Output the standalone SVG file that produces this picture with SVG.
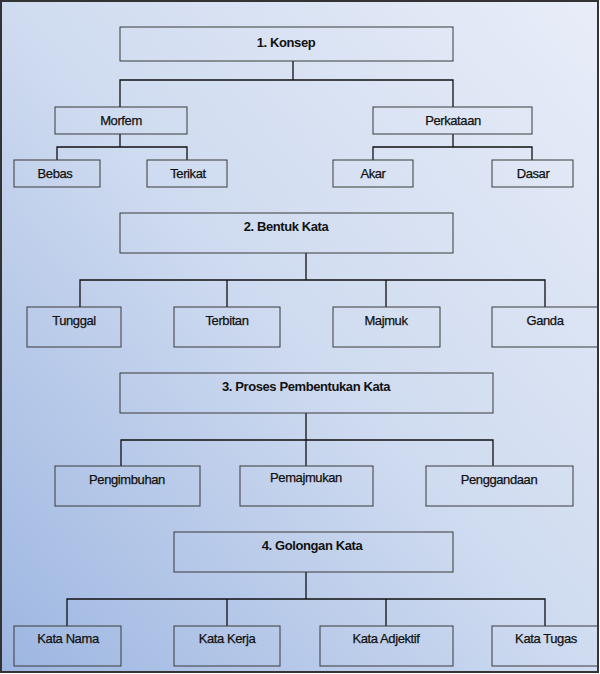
<svg xmlns="http://www.w3.org/2000/svg" width="600" height="674" viewBox="0 0 600 674">
<defs>
<linearGradient id="bg" x1="1" y1="0" x2="0" y2="1">
<stop offset="0" stop-color="#e8edf8"/>
<stop offset="0.5" stop-color="#cfdbf0"/>
<stop offset="1" stop-color="#9db6e1"/>
</linearGradient>
<style>
.b{fill:none;stroke:#3a3a3a;stroke-width:1}
.t{font-family:"Liberation Sans",Arial,sans-serif;font-size:13px;fill:#111;text-anchor:middle;letter-spacing:-0.4px;stroke:#111;stroke-width:0.25}
.h{font-weight:bold;stroke-width:0}
.c{fill:none;stroke:#111;stroke-width:1.3}
</style>
</defs>
<rect x="1" y="1" width="597" height="671" fill="url(#bg)" stroke="#333" stroke-width="2"/>
<g id="connectors">
<path class="c" d="M293 61V80M120 107V80H453V107"/>
<path class="c" d="M120 134V147M57 160V147H187V160"/>
<path class="c" d="M453 134V147M373 160V147H532V160"/>
<path class="c" d="M306 253V280M80 307V280H545V307M227 280V307M386 280V307"/>
<path class="c" d="M306 413V440M121 466V440H493V466M306 440V466"/>
<path class="c" d="M306 572V599M67 626V599H545V626M227 599V626M386 599V626"/>
</g>
<g id="konsep"><rect class="b" x="120" y="27" width="333" height="34"/><text class="t h" x="286" y="47">1. Konsep</text></g>
<g id="morfem"><rect class="b" x="55" y="107" width="132" height="27"/><text class="t" x="121" y="125">Morfem</text></g>
<g id="perkataan"><rect class="b" x="373" y="107" width="159" height="27"/><text class="t" x="453" y="125">Perkataan</text></g>
<g id="bebas"><rect class="b" x="14" y="160" width="86" height="27"/><text class="t" x="55" y="178">Bebas</text></g>
<g id="terikat"><rect class="b" x="147" y="160" width="80" height="27"/><text class="t" x="188" y="178">Terikat</text></g>
<g id="akar"><rect class="b" x="333" y="160" width="80" height="27"/><text class="t" x="373" y="178">Akar</text></g>
<g id="dasar"><rect class="b" x="492" y="160" width="81" height="27"/><text class="t" x="533" y="178">Dasar</text></g>
<g id="bentuk"><rect class="b" x="120" y="213" width="333" height="40"/><text class="t h" x="286" y="231">2. Bentuk Kata</text></g>
<g id="tunggal"><rect class="b" x="27" y="307" width="94" height="40"/><text class="t" x="74" y="325">Tunggal</text></g>
<g id="terbitan"><rect class="b" x="174" y="307" width="106" height="40"/><text class="t" x="227" y="325">Terbitan</text></g>
<g id="majmuk"><rect class="b" x="333" y="307" width="107" height="40"/><text class="t" x="386" y="325">Majmuk</text></g>
<g id="ganda"><rect class="b" x="492" y="307" width="106" height="40"/><text class="t" x="545" y="325">Ganda</text></g>
<g id="proses"><rect class="b" x="120" y="373" width="373" height="40"/><text class="t h" x="306" y="391">3. Proses Pembentukan Kata</text></g>
<g id="pengimbuhan"><rect class="b" x="55" y="466" width="145" height="40"/><text class="t" x="127" y="484">Pengimbuhan</text></g>
<g id="pemajmukan"><rect class="b" x="240" y="466" width="133" height="40"/><text class="t" x="306" y="482">Pemajmukan</text></g>
<g id="penggandaan"><rect class="b" x="426" y="466" width="147" height="40"/><text class="t" x="499" y="484">Penggandaan</text></g>
<g id="golongan"><rect class="b" x="174" y="532" width="279" height="40"/><text class="t h" x="312" y="550">4. Golongan Kata</text></g>
<g id="nama"><rect class="b" x="14" y="626" width="107" height="40"/><text class="t" x="68" y="643">Kata Nama</text></g>
<g id="kerja"><rect class="b" x="174" y="626" width="106" height="40"/><text class="t" x="227" y="643">Kata Kerja</text></g>
<g id="adjektif"><rect class="b" x="320" y="626" width="133" height="40"/><text class="t" x="386" y="643">Kata Adjektif</text></g>
<g id="tugas"><rect class="b" x="492" y="626" width="106" height="40"/><text class="t" x="546" y="643">Kata Tugas</text></g>
</svg>
